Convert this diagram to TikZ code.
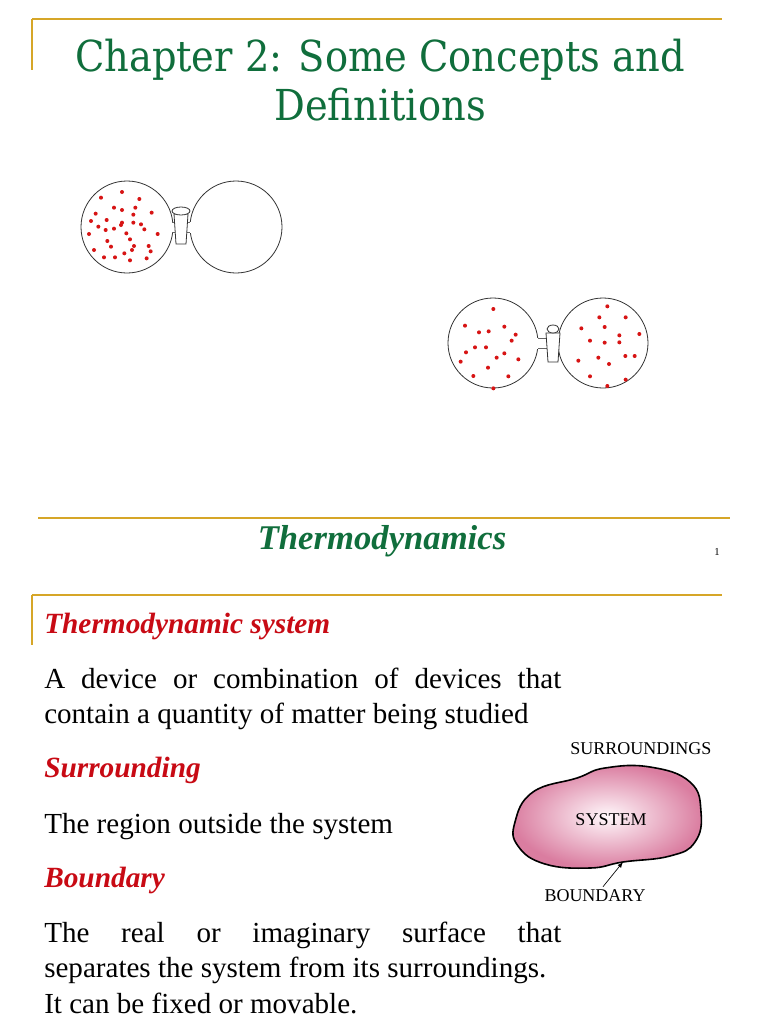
\documentclass[tikz,border=0pt]{standalone}
\usepackage{fontspec}
\setmainfont{Liberation Serif}
\newfontfamily\titlefont{DejaVu Serif Condensed}
\definecolor{gold}{RGB}{214,166,40}
\definecolor{dgreen}{RGB}{16,110,60}
\definecolor{dred}{RGB}{200,10,20}
\definecolor{dotred}{RGB}{215,20,20}
\definecolor{pinkout}{RGB}{218,125,160}
\definecolor{pinkin}{RGB}{255,248,251}
\newcommand{\jline}[1]{\makebox[387.75pt][s]{#1}}
\begin{document}
\begin{tikzpicture}[x=0.75pt,y=-0.75pt,
  rule/.style={draw=gold,line width=1.6pt},
  body/.style={font=\fontsize{21.8}{26.25}\selectfont,anchor=base west,inner sep=0},
  head/.style={font=\fontsize{22}{24}\selectfont\bfseries\itshape,text=dred,anchor=west,inner sep=0},
  flask/.style={draw=black!80,line width=0.6pt},
  dot/.style={fill=dotred},
  lab/.style={font=\fontsize{13.5}{14}\selectfont,inner sep=0}]
\useasboundingbox (0,0) rectangle (768,1024);
\fill[white] (0,0) rectangle (768,1024);
% rules
\draw[rule] (32,19) -- (722,19); \draw[draw=gold,line width=0.8pt] (32,19) -- (32,70);
\draw[rule] (38,518) -- (730,518);
\draw[rule] (32,595) -- (722,595); \draw[draw=gold,line width=0.8pt] (32,595) -- (32,645);
% title
\node[font=\titlefont\fontsize{32}{34}\selectfont,text=dgreen,inner sep=0] (t1) at (380,60) {Chapter 2: Some Concepts and};
\node[font=\titlefont\fontsize{32}{34}\selectfont,text=dgreen,inner sep=0] (t2) at (380,105) {Definitions};
% flask 1
\draw[flask] (127,227) circle (46);
\draw[flask] (236,227) circle (46);
\fill[white] (170,222) rectangle (192,233);
\draw[black!60,line width=0.5pt] (172,222.5) -- (190,222.5) (172,232.5) -- (190,232.5);
\draw[flask,fill=white] (174,214) -- (188,214) -- (186,244) -- (176,244) -- cycle;
\draw[flask,fill=white] (181,211) ellipse (9 and 4);
\foreach \a/\b in {123/83,186/66,238/87,162/113,186/120,226/113,275/128,107/131,220/134,93/153,140/150,186/158,220/158,243/163,115/170,137/180,162/176,183/165,253/178,87/192,199/190,293/192,210/208,142/213,153/230,222/228,266/228,102/240,216/240,272/244,193/250,132/262,165/262,210/271,260/265}
  \fill[dot] (60+\a/3,170+\b/3) circle (2);
% flask 2
\draw[flask] (493,343) circle (45);
\draw[flask] (603,343) circle (45);
\fill[white] (536,338) rectangle (560,349);
\draw[black!60,line width=0.5pt] (538,338.5) -- (558,338.5) (538,348.5) -- (558,348.5);
\draw[flask,fill=white] (546,333) -- (560,333) -- (558,362) -- (548,362) -- cycle;
\draw[flask,fill=white] (553,329) ellipse (6 and 4);
\foreach \a/\b in {160/57,75/107,117/127,146/124,193/110,227/134,215/152,78/187,105/172,138/172,193/190,170/203,235/208,62/215,144/233,100/258,205/259,160/295,502/49,478/82,557/82,424/115,494/111,538/136,598/132,450/152,494/158,538/157,415/212,475/203,556/198,584/198,507/222,450/259,557/269,502/288}
  \fill[dot] (440+\a/3,290+\b/3) circle (2);
% thermodynamics footer
\node[font=\fontsize{26}{28}\selectfont\bfseries\itshape,text=dgreen,inner sep=0] (th) at (382,541) {Thermodynamics};
\node[font=\fontsize{8}{9}\selectfont,inner sep=0] (pg) at (717,552) {1};
% text
\node[head] (h1) at (44,626) {Thermodynamic system};
\node[body] (b1a) at (44,688) {\jline{A device or combination of devices that}};
\node[body] (b1b) at (44,723) {contain a quantity of matter being studied};
\node[head] (h2) at (44,770) {Surrounding};
\node[body] (b2) at (44,833) {The region outside the system};
\node[head] (h3) at (44,880) {Boundary};
\node[body] (b3a) at (44,942) {\jline{The real or imaginary surface that}};
\node[body] (b3b) at (44,977) {separates the system from its surroundings.};
\node[body] (b3c) at (44,1013) {It can be fixed or movable.};
% system blob
\shade[inner color=pinkin,outer color=pinkout] plot[smooth cycle,tension=0.75] coordinates {(515,822) (533,792) (577,778) (605,768) (650,767) (690,782) (701,812) (695,842) (670,856) (623,862) (590,868) (545,864) (518,846)};
\draw[black,line width=1.2pt] plot[smooth cycle,tension=0.75] coordinates {(515,822) (533,792) (577,778) (605,768) (650,767) (690,782) (701,812) (695,842) (670,856) (623,862) (590,868) (545,864) (518,846)};
\node[lab,anchor=west] (sur) at (570,749) {SURROUNDINGS};
\node[lab] (sys) at (611,820) {SYSTEM};
\node[lab] (bnd) at (595,896) {BOUNDARY};
\coordinate (btip) at (623,862);
\draw[-latex,line width=0.5pt] (bnd.north)++(8,-3) -- (btip);
\end{tikzpicture}
\end{document}
